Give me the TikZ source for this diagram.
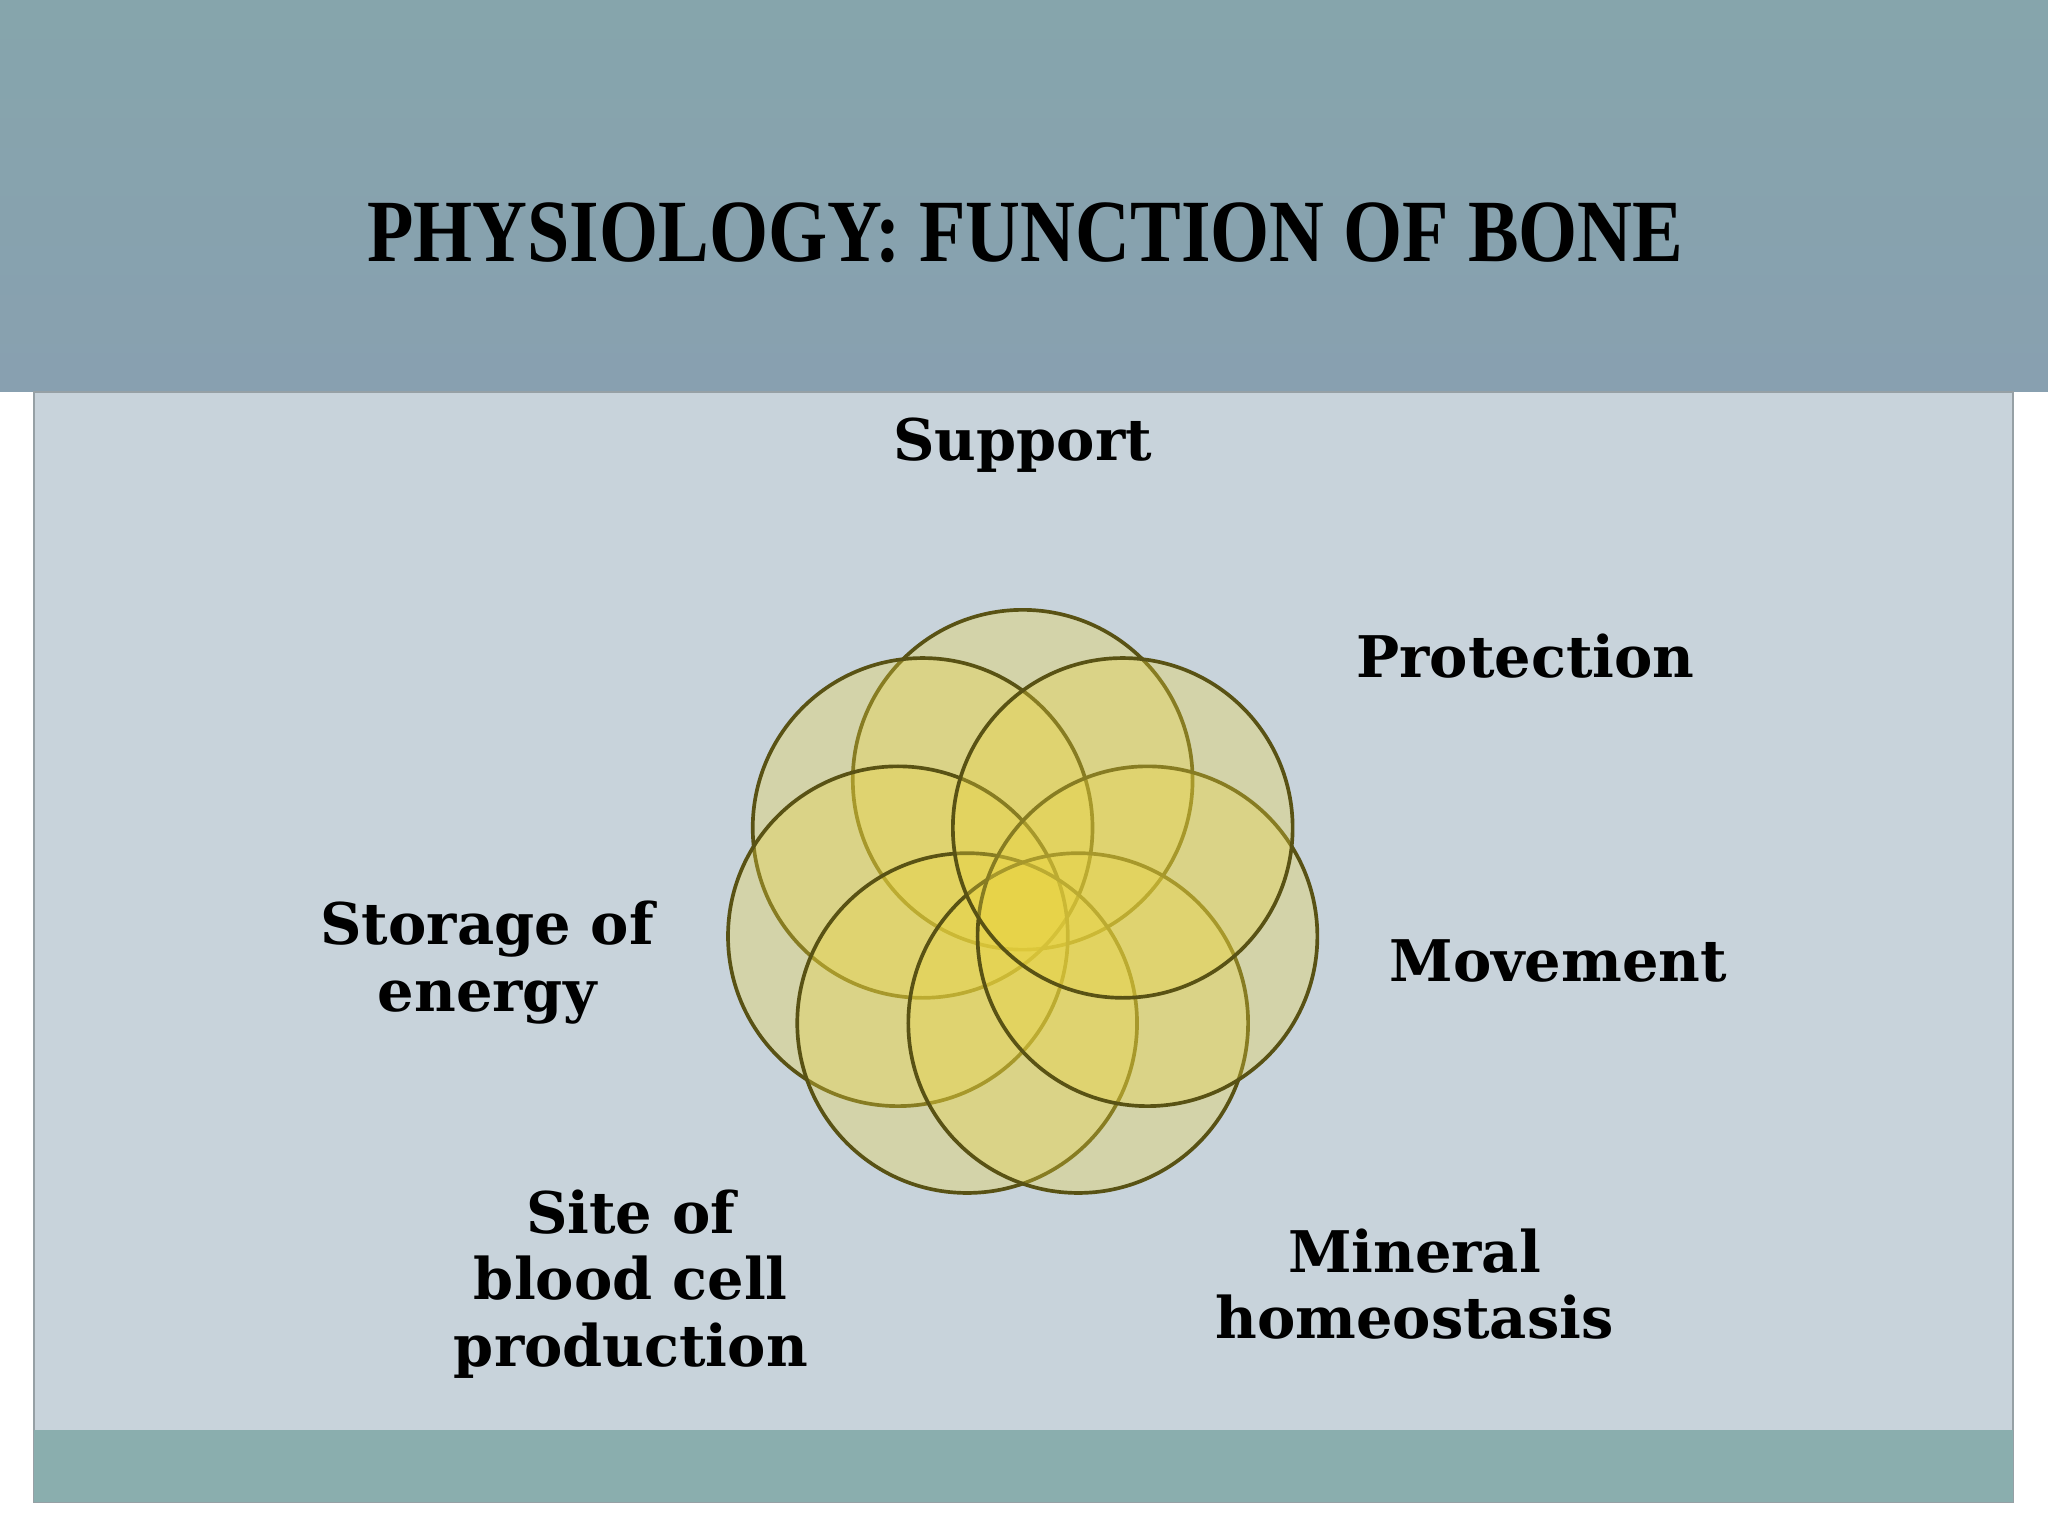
\documentclass[tikz,border=0pt]{standalone}
\usepackage{fontspec}
\setmainfont{DejaVu Serif}
\newfontfamily\titlefont{Liberation Serif}
\definecolor{bandtop}{RGB}{134,165,172}
\definecolor{bandbot}{RGB}{136,160,176}
\definecolor{panel}{RGB}{200,211,219}
\definecolor{panelline}{RGB}{150,160,165}
\definecolor{footband}{RGB}{138,174,174}
\definecolor{petalfill}{rgb}{0.92,0.84,0.25}
\definecolor{petalline}{rgb}{0.35,0.32,0.08}
\begin{document}
\begin{tikzpicture}[x=0.01cm,y=-0.01cm,
  lbl/.style={font=\bfseries\fontsize{12.5}{14.5}\selectfont, align=center, text=black},
  petal/.style={fill=petalfill, fill opacity=0.32, draw=petalline, line width=0.8pt}]
\useasboundingbox (0,0) rectangle (1568,1176);
\fill[white] (0,0) rectangle (1568,1176);
\shade[top color=bandtop, bottom color=bandbot] (0,0) rectangle (1568,300);
\filldraw[draw=panelline, fill=panel] (26,300) rectangle (1541,1150);
\fill[footband] (26,1095) rectangle (1541,1150);
\node (title) at (785,178) {\resizebox{10.07cm}{0.45cm}{\titlefont\bfseries PHYSIOLOGY: FUNCTION OF BONE}};
\foreach \k in {0,...,6}{
  \path[petal] ({783+98*cos(90+\k*360/7)},{695-98*sin(90+\k*360/7)}) circle[radius=1.3cm];
}
\node[lbl] (sup) at (783,341) {Support};
\node[lbl] (pro) at (1168,502) {Protection};
\node[lbl] (mov) at (1193,736) {Movement};
\node[lbl] (sto) at (373,737) {Storage of\\energy};
\node[lbl] (sit) at (483,983) {Site of\\blood cell\\production};
\node[lbl] (min) at (1083,983) {Mineral\\homeostasis};
\end{tikzpicture}
\end{document}
